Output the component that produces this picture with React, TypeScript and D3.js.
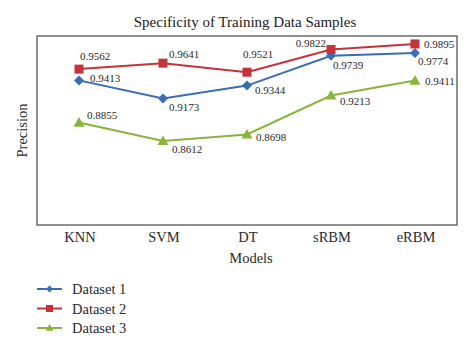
import React from "react";
import * as d3 from "d3";

const categories = ["KNN", "SVM", "DT", "sRBM", "eRBM"];
const dataset1 = [0.9413, 0.9173, 0.9344, 0.9739, 0.9774];
const dataset2 = [0.9562, 0.9641, 0.9521, 0.9822, 0.9895];
const dataset3 = [0.8855, 0.8612, 0.8698, 0.9213, 0.9411];
const seriesNames = ["Dataset 1", "Dataset 2", "Dataset 3"];
const yDomain = [0.75, 1.0];

// label placement offsets (style only)
const labelOffsets1: [number, number, string][] = [
  [11, 2, "start"], [6, 12, "start"], [8, 8, "start"], [2, 13, "start"], [3, 12, "start"],
];
const labelOffsets2: [number, number, string][] = [
  [1, -9, "start"], [6, -5, "start"], [-4, -14, "start"], [-5, -2, "end"], [9, 4, "start"],
];
const labelOffsets3: [number, number, string][] = [
  [8, -4, "start"], [9, 12, "start"], [9, 7, "start"], [9, 10, "start"], [10, 4, "start"],
];

const W = 474, H = 349;
const box = { left: 37, right: 457, top: 36, bottom: 225 };
const FONT = "'Liberation Serif', 'Times New Roman', serif";

const colors = ["#3b6db4", "#c4323a", "#8ab43c"];

function Marker({ kind, x, y, color }: { kind: number; x: number; y: number; color: string }) {
  if (kind === 0) {
    const s = 5;
    return <path d={`M${x},${y - s}L${x + s},${y}L${x},${y + s}L${x - s},${y}Z`} fill={color} />;
  }
  if (kind === 1) {
    const s = 4.5;
    return <rect x={x - s} y={y - s} width={2 * s} height={2 * s} fill={color} />;
  }
  const s = 5.5;
  return <path d={`M${x},${y - s}L${x + s},${y + s * 0.75}L${x - s},${y + s * 0.75}Z`} fill={color} />;
}

function LegendMarker({ kind, x, y, color }: { kind: number; x: number; y: number; color: string }) {
  if (kind === 0) {
    const s = 3.5;
    return <path d={`M${x},${y - s}L${x + s},${y}L${x},${y + s}L${x - s},${y}Z`} fill={color} />;
  }
  if (kind === 1) {
    const s = 3.5;
    return <rect x={x - s} y={y - s} width={2 * s} height={2 * s} fill={color} />;
  }
  const s = 4;
  return <path d={`M${x},${y - s}L${x + s},${y + s * 0.7}L${x - s},${y + s * 0.7}Z`} fill={color} />;
}

export default function App() {
  const x = d3.scalePoint<string>().domain(categories).range([box.left, box.right]).padding(0.5);
  const y = d3.scaleLinear().domain(yDomain).range([box.bottom, box.top]);
  const series = [dataset1, dataset2, dataset3];
  const offsets = [labelOffsets1, labelOffsets2, labelOffsets3];
  const line = d3
    .line<number>()
    .x((_, i) => x(categories[i]) as number)
    .y((d) => y(d));

  return (
    <svg width={W} height={H} style={{ position: "absolute", left: 0, top: 0, background: "#fff" }}>
      <rect x={0} y={0} width={W} height={H} fill="#fff" />
      <text x={245} y={27} textAnchor="middle" fontFamily={FONT} fontSize={15} fill="#222">
        Specificity of Training Data Samples
      </text>
      <rect
        x={box.left}
        y={box.top}
        width={box.right - box.left}
        height={box.bottom - box.top}
        fill="none"
        stroke="#6b6b6b"
        strokeWidth={1.5}
      />
      {series.map((vals, si) => (
        <g key={si}>
          <path d={line(vals) || ""} fill="none" stroke={colors[si]} strokeWidth={2} />
          {vals.map((v, i) => (
            <Marker key={i} kind={si} x={x(categories[i]) as number} y={y(v)} color={colors[si]} />
          ))}
        </g>
      ))}
      {series.map((vals, si) =>
        vals.map((v, i) => {
          const [dx, dy, anchor] = offsets[si][i];
          return (
            <text
              key={`${si}-${i}`}
              x={(x(categories[i]) as number) + dx}
              y={y(v) + dy}
              textAnchor={anchor as any}
              fontFamily={FONT}
              fontSize={11}
              fill="#2a2a2a"
            >
              {v.toFixed(4)}
            </text>
          );
        })
      )}
      {categories.map((c) => (
        <text key={c} x={(x(c) as number) + 1} y={242} textAnchor="middle" fontFamily={FONT} fontSize={14.5} fill="#2a2a2a">
          {c}
        </text>
      ))}
      <text x={251} y={263} textAnchor="middle" fontFamily={FONT} fontSize={14.5} fill="#2a2a2a">
        Models
      </text>
      <text
        transform={`translate(27,${(box.top + box.bottom) / 2}) rotate(-90)`}
        textAnchor="middle"
        fontFamily={FONT}
        fontSize={14.5}
        fill="#2a2a2a"
      >
        Precision
      </text>
      {seriesNames.map((n, i) => {
        const ly = 289 + i * 19.5;
        return (
          <g key={n}>
            <line x1={37} x2={62} y1={ly} y2={ly} stroke={colors[i]} strokeWidth={2} />
            <LegendMarker kind={i} x={49.5} y={ly} color={colors[i]} />
            <text x={72} y={ly + 5} fontFamily={FONT} fontSize={14.5} fill="#2a2a2a">
              {n}
            </text>
          </g>
        );
      })}
    </svg>
  );
}
